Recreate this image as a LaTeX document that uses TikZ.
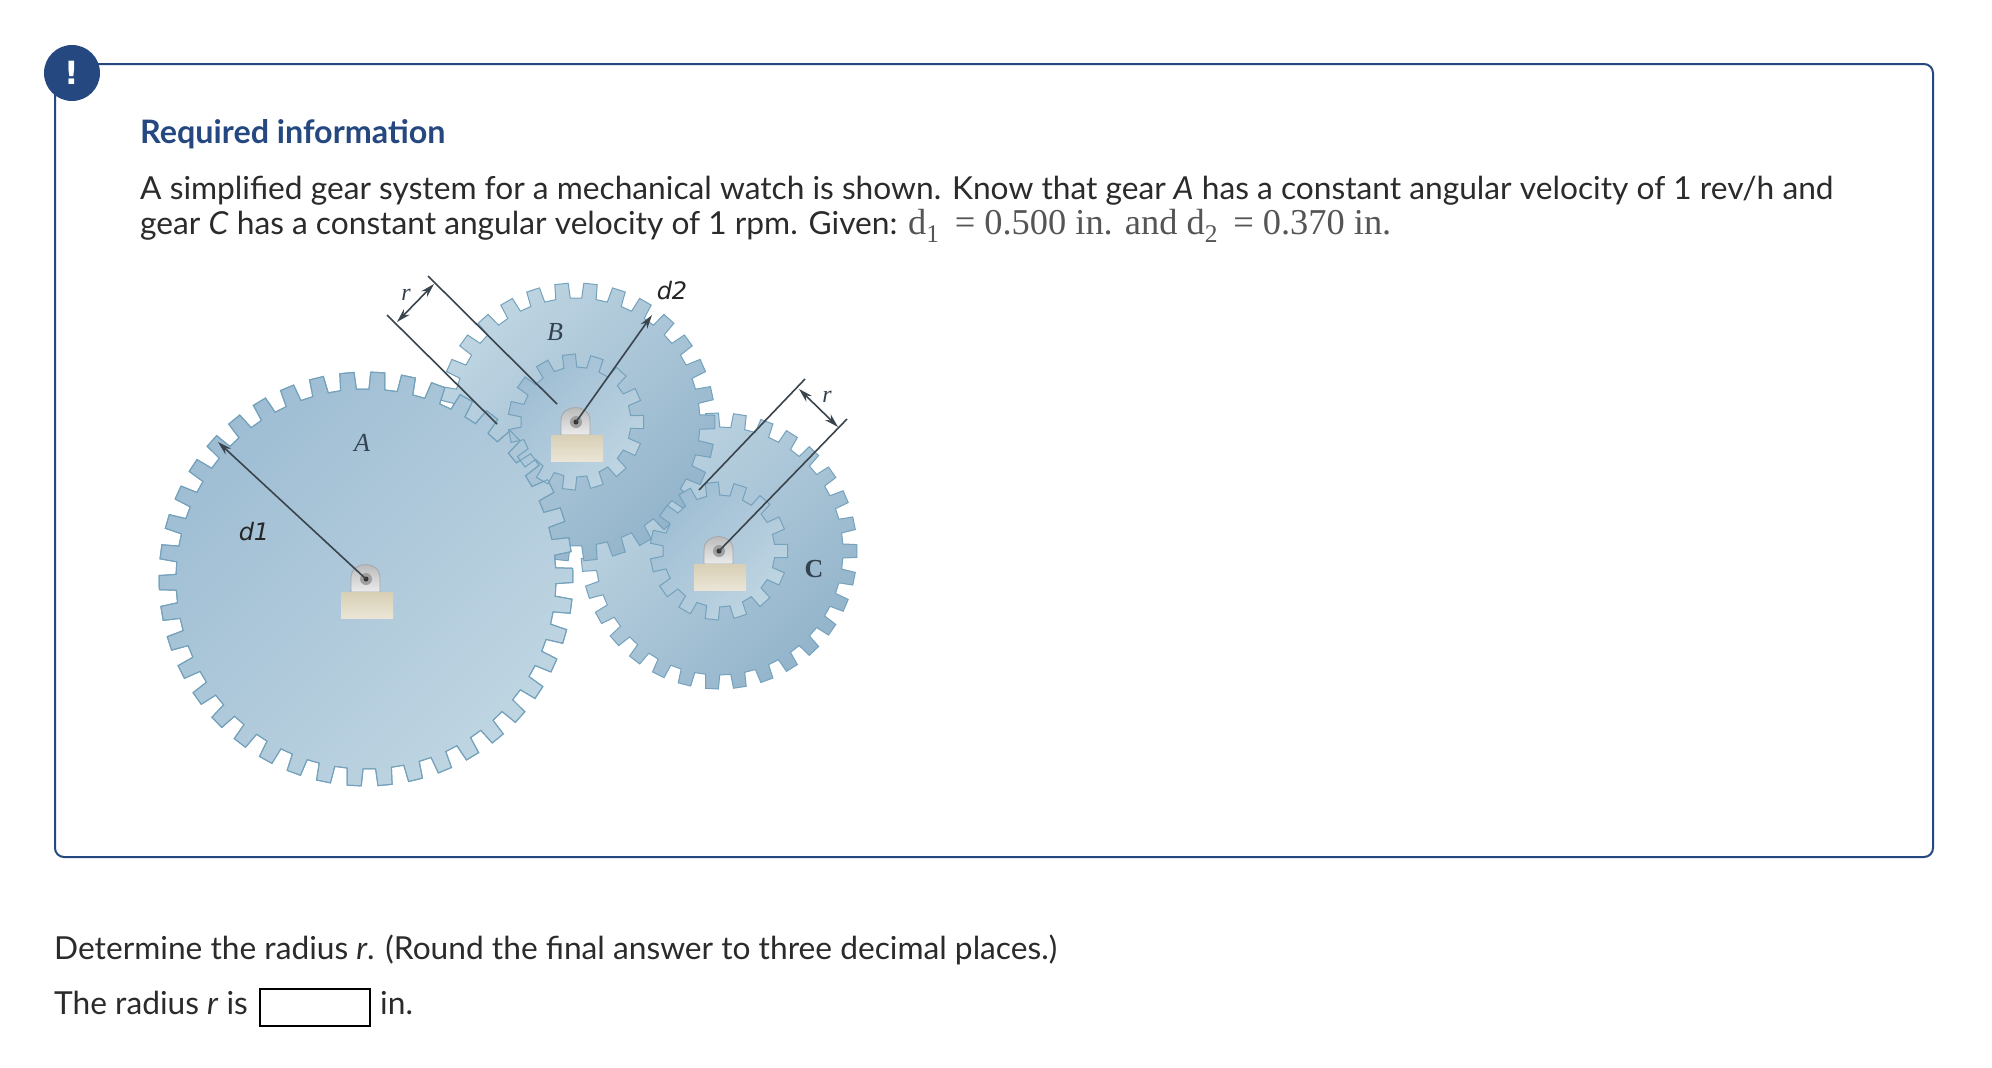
\documentclass[tikz,border=0pt]{standalone}
\usepackage{fontspec}
\usetikzlibrary{arrows.meta}
\setmainfont{Lato}
\newfontfamily\serifgiven{Liberation Serif}
\newfontfamily\labelsans{DejaVu Sans}
\definecolor{framecol}{HTML}{24487F}
\definecolor{bodycol}{HTML}{2B2B2B}
\definecolor{givencol}{HTML}{555555}
\definecolor{teethcol}{HTML}{74A2BC}
\definecolor{dimcol}{HTML}{3A444D}
\definecolor{labelcol}{HTML}{34424F}
\definecolor{darkblue}{HTML}{93B4CB}
\definecolor{midblue}{HTML}{9EBDD3}
\definecolor{paleblue}{HTML}{BFD5E2}
\definecolor{basetop}{HTML}{D8CFB4}
\definecolor{basebot}{HTML}{EAE5D6}
\newcommand{\gearpath}[5]{%
    \path[#1] ({#5+0.28*360/#4}:#3)
    \foreach \k in {1,...,#4} {
        -- ({#5+(\k-0.28)*360/#4}:#3) -- ({#5+(\k-0.23)*360/#4}:#2)
        -- ({#5+(\k+0.23)*360/#4}:#2) -- ({#5+(\k+0.28)*360/#4}:#3)
    } -- cycle;
}
\newcommand{\mountat}[1]{%
    \begin{scope}[shift={(#1)}]
        \path[draw=gray!70, line width=0.8pt, top color=gray!60, bottom color=gray!15]
            (-15,13) -- (-15,-1) .. controls (-15,-19) and (14,-19) .. (14,-1) -- (14,13) -- cycle;
        \fill[gray!75] (0,0) circle (6pt);
        \fill[black!80] (0,0) circle (2.5pt);
        \path[top color=basetop, bottom color=basebot] (-25,13) rectangle (27,39);
    \end{scope}
}
\tikzset{
    bodytext/.style={anchor=base west, inner sep=0pt, text=bodycol, font=\fontsize{31.7}{36}\selectfont},
    giventext/.style={anchor=base west, inner sep=0pt, text=givencol, font=\serifgiven\fontsize{36.4}{40}\selectfont},
    headtext/.style={anchor=base west, inner sep=0pt, text=framecol, font=\bfseries\fontsize{32.3}{36}\selectfont},
    gearlabel/.style={inner sep=0pt, text=labelcol, font=\serifgiven\itshape\fontsize{26}{26}\selectfont},
    rlabel/.style={inner sep=0pt, text=labelcol, font=\serifgiven\itshape\fontsize{24}{24}\selectfont},
    dlabel/.style={inner sep=0pt, text=black!85, font=\labelsans\itshape\fontsize{24}{24}\selectfont},
    dimline/.style={draw=dimcol, line width=1.6pt, >={Stealth[length=14pt, width=8pt]}},
    outlineonly/.style={draw=teethcol, line width=1pt},
    outerlight/.style={outlineonly, top color=paleblue, bottom color=darkblue, shading angle=45},
    innerdark/.style={outlineonly, top color=midblue, bottom color=paleblue, shading angle=45},
}
\begin{document}
\begin{tikzpicture}[x=1pt, y=-1pt]
    \path[use as bounding box, fill=white] (0,0) rectangle (1992,1068);
    \draw[framecol, line width=2pt, rounded corners=9pt] (55,64) rectangle (1933,857);
    \node[circle, fill=framecol, minimum size=56pt, inner sep=0pt, text=white, font=\labelsans\bfseries\fontsize{32}{32}\selectfont] (alert) at (72,73) {!};
    \node[headtext] (heading) at (140,143) {Required information};
    \node[bodytext] (introline) at (140,199) {A simplified gear system for a mechanical watch is shown. Know that gear \textit{A} has a constant angular velocity of 1 rev/h and};
    \node[bodytext] (secondline) at (140,234) {gear \textit{C} has a constant angular velocity of 1 rpm. Given:};
    \node[giventext] (givenvals) at (908,234) {d\textsubscript{1} \,= 0.500 in. and d\textsubscript{2} \,= 0.370 in.};
    \node[bodytext] (question) at (54,959) {Determine the radius \textit{r}. (Round the final answer to three decimal places.)};
    \node[bodytext] (answerline) at (54,1014) {The radius \textit{r} is};
    \node[draw=black, line width=2pt, minimum width=110pt, minimum height=37pt, inner sep=0pt] (answerbox) at (315,1007.5) {};
    \node[bodytext] (unit) at (380,1014) {in.};

    \coordinate (hubA) at (366,579);
    \coordinate (hubB) at (576,422);
    \coordinate (hubC) at (719,551);

    \begin{scope}[shift={(hubC)}]
        \gearpath{outerlight}{138}{124}{31}{0}
    \end{scope}
    \begin{scope}[shift={(hubB)}]
        \gearpath{outerlight}{139}{124}{30}{0}
    \end{scope}
    \begin{scope}[shift={(hubA)}]
        \gearpath{outlineonly, top color=midblue, bottom color=paleblue, shading angle=45}{207}{190}{42}{-1}
    \end{scope}
    \begin{scope}[shift={(hubC)}]
        \gearpath{innerdark}{69}{56}{15}{0}
    \end{scope}
    \begin{scope}[shift={(hubB)}]
        \gearpath{innerdark}{68}{55}{15}{0}
    \end{scope}
    \begin{scope}[shift={(hubA)}]
        \gearpath{outlineonly}{207}{190}{42}{-1}
    \end{scope}

    \mountat{hubA}
    \mountat{hubB}
    \mountat{hubC}

    \coordinate (rimA) at (218,442);
    \coordinate (rimB) at (652,315);
    \coordinate (tickAB1) at (428,276);
    \coordinate (tickAB2) at (557,404);
    \coordinate (tickAB3) at (387,315);
    \coordinate (tickAB4) at (497,424);
    \coordinate (tipAB1) at (434,284);
    \coordinate (tipAB2) at (397,322);
    \coordinate (tickBC1) at (805,379);
    \coordinate (tickBC2) at (699,490);
    \coordinate (tickBC3) at (847,419);
    \coordinate (tipBC1) at (799,389);
    \coordinate (tipBC2) at (838,427);

    \draw[dimline, ->] (hubA) -- (rimA);
    \draw[dimline, ->] (hubB) -- (rimB);
    \draw[dimline] (tickAB1) -- (tickAB2);
    \draw[dimline] (tickAB3) -- (tickAB4);
    \draw[dimline, <->] (tipAB1) -- (tipAB2);
    \draw[dimline] (tickBC1) -- (tickBC2);
    \draw[dimline] (tickBC3) -- (hubC);
    \draw[dimline, <->] (tipBC1) -- (tipBC2);

    \node[gearlabel] (labelA) at (362,443) {A};
    \node[gearlabel] (labelB) at (555,332) {B};
    \node[gearlabel, font=\serifgiven\bfseries\fontsize{26}{26}\selectfont] (labelC) at (814,569) {C};
    \node[rlabel] (labelrAB) at (406,295) {r};
    \node[rlabel] (labelrBC) at (827,397) {r};
    \node[dlabel] (labeldA) at (254,532) {d1};
    \node[dlabel] (labeldB) at (672,291) {d2};
\end{tikzpicture}
\end{document}
